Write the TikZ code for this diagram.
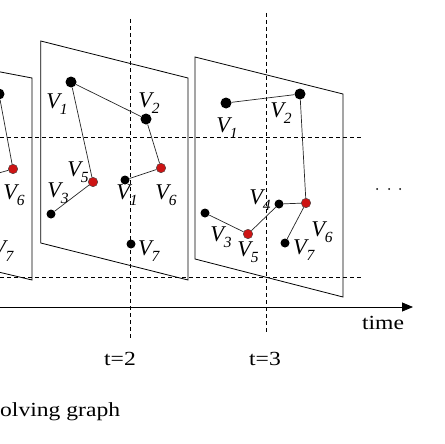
\documentclass[tikz,border=0pt]{standalone}
\usepackage{fontspec}
\setmainfont{Liberation Serif}
\usetikzlibrary{arrows.meta}
\definecolor{nodered}{RGB}{205,20,20}
\newcommand\vlabel[1]{\textit{V}\kern-2.5pt\raisebox{-0.55ex}{\fontsize{15.5}{15.5}\selectfont\textit{#1}}}
\newcommand\wide[1]{\scalebox{1.18}[1]{#1}}
\begin{document}
\begin{tikzpicture}[x=1pt,y=-1pt,
  plane/.style={draw=black, line width=0.8pt},
  guide/.style={draw=black, dash pattern=on 4pt off 3pt, line width=0.7pt},
  edge/.style={draw=black!85, line width=0.7pt},
  bnode/.style={circle, fill=black, inner sep=0pt, minimum size=9pt},
  bignode/.style={bnode, minimum size=11pt},
  rnode/.style={circle, fill=nodered, draw=black!75, line width=0.4pt, inner sep=0pt, minimum size=9.5pt},
  vlab/.style={font=\fontsize{22.5}{26}\selectfont, inner sep=0pt},
  txt/.style={font=\fontsize{20}{24}\selectfont, inner sep=0pt},
  dot/.style={circle, fill=black, inner sep=0pt, minimum size=2pt}]
\useasboundingbox (0,0) rectangle (444,444);

% guide lines
\coordinate (h1a) at (0,137); \coordinate (h1b) at (363,137);
\coordinate (h2a) at (0,277); \coordinate (h2b) at (363,277);
\coordinate (v2a) at (130,19); \coordinate (v2b) at (130,340);
\coordinate (v3a) at (266,13); \coordinate (v3b) at (266,334);
\draw[guide] (h1a) -- (h1b);
\draw[guide] (h2a) -- (h2b);
\draw[guide] (v2a) -- (v2b);
\draw[guide] (v3a) -- (v3b);

% time axis
\coordinate (ta) at (0,307); \coordinate (tb) at (413,307);
\draw[line width=0.8pt, -{Triangle[length=11pt,width=9pt]}] (ta) -- (tb);
\node[txt] (time) at (383,323) {\wide{time}};
\node[txt] (t2) at (120,359) {\wide{t=2}};
\node[txt] (t3) at (265,359) {\wide{t=3}};
\node[txt, anchor=west] (cap) at (0,412) {\wide{olving graph}};

% planes
\draw[plane] (-10,70) -- (32,78) -- (32,280) -- (-10,270);
\draw[plane] (40.7,41) -- (188,78) -- (188,280) -- (40.7,243) -- cycle;
\draw[plane] (195,57) -- (343,94) -- (343,297) -- (195,259) -- cycle;

% left partial plane graph
\node[bignode] (L1) at (-1,94) {};
\node[rnode] (L6) at (13,169) {};
\coordinate (Lx) at (-12,176);
\draw[edge] (L1) -- (L6);
\draw[edge] (L6) -- (Lx);
\node[vlab] (lL6) at (14,195) {\vlabel{6}};
\node[vlab] (lL7) at (3,251) {\vlabel{7}};

% middle plane graph (t=2)
\node[bignode] (M1) at (71,82) {};
\node[bignode] (M2) at (146,119) {};
\node[rnode] (M5) at (93,182) {};
\node[bnode] (M3) at (51,214) {};
\node[bnode] (M1b) at (125,180) {};
\node[rnode] (M6) at (161,168) {};
\node[bnode] (M7) at (131,244) {};
\draw[edge] (M1) -- (M2);
\draw[edge] (M1) -- (M5);
\draw[edge] (M5) -- (M3);
\draw[edge] (M2) -- (M6);
\draw[edge] (M6) -- (M1b);
\node[vlab] (lM1) at (57,104) {\vlabel{1}};
\node[vlab] (lM2) at (149,103) {\vlabel{2}};
\node[vlab] (lM5) at (78,172) {\vlabel{5}};
\node[vlab] (lM3) at (58,193) {\vlabel{3}};
\node[vlab] (lM1b) at (127,195) {\vlabel{1}};
\node[vlab] (lM6) at (166,195) {\vlabel{6}};
\node[vlab] (lM7) at (149,251) {\vlabel{7}};

% right plane graph (t=3)
\node[bignode] (R1) at (226,103) {};
\node[bignode] (R2) at (300,94) {};
\node[rnode] (R6) at (306,203) {};
\node[bnode] (R4) at (279,204) {};
\node[rnode] (R5) at (248,234) {};
\node[bnode] (R3) at (205,213) {};
\node[bnode] (R7) at (285,243) {};
\draw[edge] (R1) -- (R2);
\draw[edge] (R2) -- (R6);
\draw[edge] (R6) -- (R4);
\draw[edge] (R4) -- (R5);
\draw[edge] (R5) -- (R3);
\draw[edge] (R6) -- (R7);
\node[vlab] (lR1) at (227,128) {\vlabel{1}};
\node[vlab] (lR2) at (281,113) {\vlabel{2}};
\node[vlab] (lR4) at (260,200) {\vlabel{4}};
\node[vlab] (lR3) at (221,237) {\vlabel{3}};
\node[vlab] (lR5) at (248,252) {\vlabel{5}};
\node[vlab] (lR6) at (322,232) {\vlabel{6}};
\node[vlab] (lR7) at (304,250) {\vlabel{7}};

% ellipsis
\node[dot] (d1) at (377,189) {};
\node[dot] (d2) at (389,189) {};
\node[dot] (d3) at (400,189) {};
\end{tikzpicture}
\end{document}
